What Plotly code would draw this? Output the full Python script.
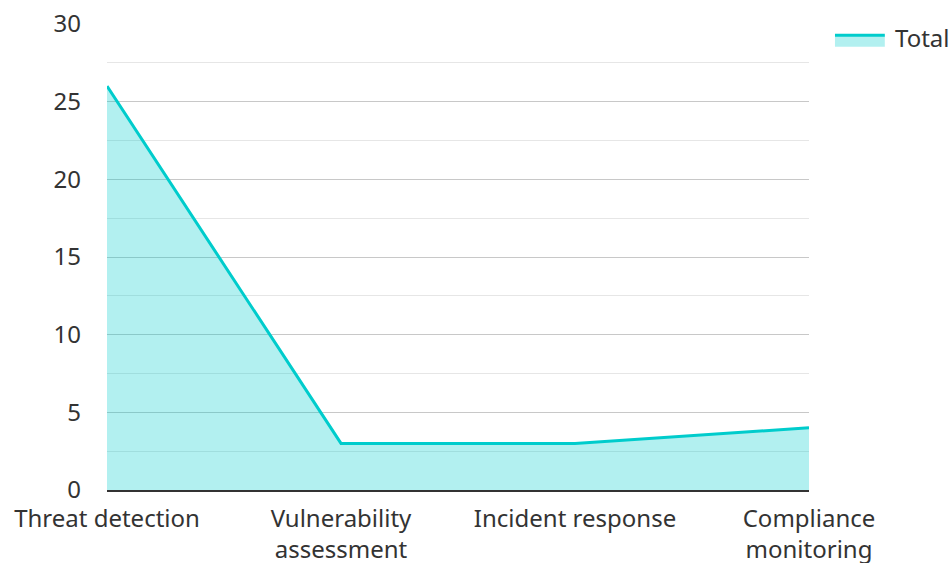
import plotly.graph_objects as go

categories = ["Threat detection", "Vulnerability<br>assessment", "Incident response", "Compliance<br>monitoring"]
totals = [26, 3, 3, 4]
y_ticks = [0, 5, 10, 15, 20, 25, 30]
series_name = "Total"

LINE_COLOR = "#00cccc"
FILL_COLOR = "rgba(0,204,204,0.3)"
TEXT_COLOR = "#333333"

fig = go.Figure()
fig.add_trace(go.Scatter(
    x=list(range(len(categories))),
    y=totals,
    name=series_name,
    mode="lines",
    line=dict(color=LINE_COLOR, width=3),
    fill="tozeroy",
    fillcolor=FILL_COLOR,
    showlegend=False,
))

# Legend swatch (line over a filled band) drawn beside the plot area
fig.add_shape(type="rect", xref="paper", yref="paper",
              x0=1.037, x1=1.108, y0=0.951, y1=0.976,
              fillcolor=FILL_COLOR, line=dict(width=0))
fig.add_shape(type="line", xref="paper", yref="paper",
              x0=1.037, x1=1.108, y0=0.976, y1=0.976,
              line=dict(color=LINE_COLOR, width=3))
fig.add_annotation(xref="paper", yref="paper", x=1.12, y=0.97,
                   xanchor="left", yanchor="middle", showarrow=False,
                   text=series_name, font=dict(size=24, color=TEXT_COLOR))

fig.update_layout(
    width=950, height=563,
    margin=dict(l=107, r=141, t=24, b=73),
    paper_bgcolor="white", plot_bgcolor="white",
    font=dict(family="Noto Sans, Open Sans, sans-serif", size=24, color=TEXT_COLOR),
    showlegend=False,
)
fig.update_xaxes(
    tickmode="array", tickvals=list(range(len(categories))), ticktext=categories,
    range=[0, len(categories) - 1], showgrid=False, zeroline=False,
    showline=True, linecolor=TEXT_COLOR, linewidth=2, ticks="",
    ticklabelstandoff=6, automargin=False,
)
fig.update_yaxes(
    range=[0, 30], tickvals=y_ticks, showgrid=True, gridcolor="#c8c8c8", gridwidth=1,
    zeroline=False, showline=False, ticks="", ticklabelstandoff=25, automargin=False,
    minor=dict(dtick=2.5, showgrid=True, gridcolor="#e6e6e6", gridwidth=1),
)

fig.write_html("out.html")
